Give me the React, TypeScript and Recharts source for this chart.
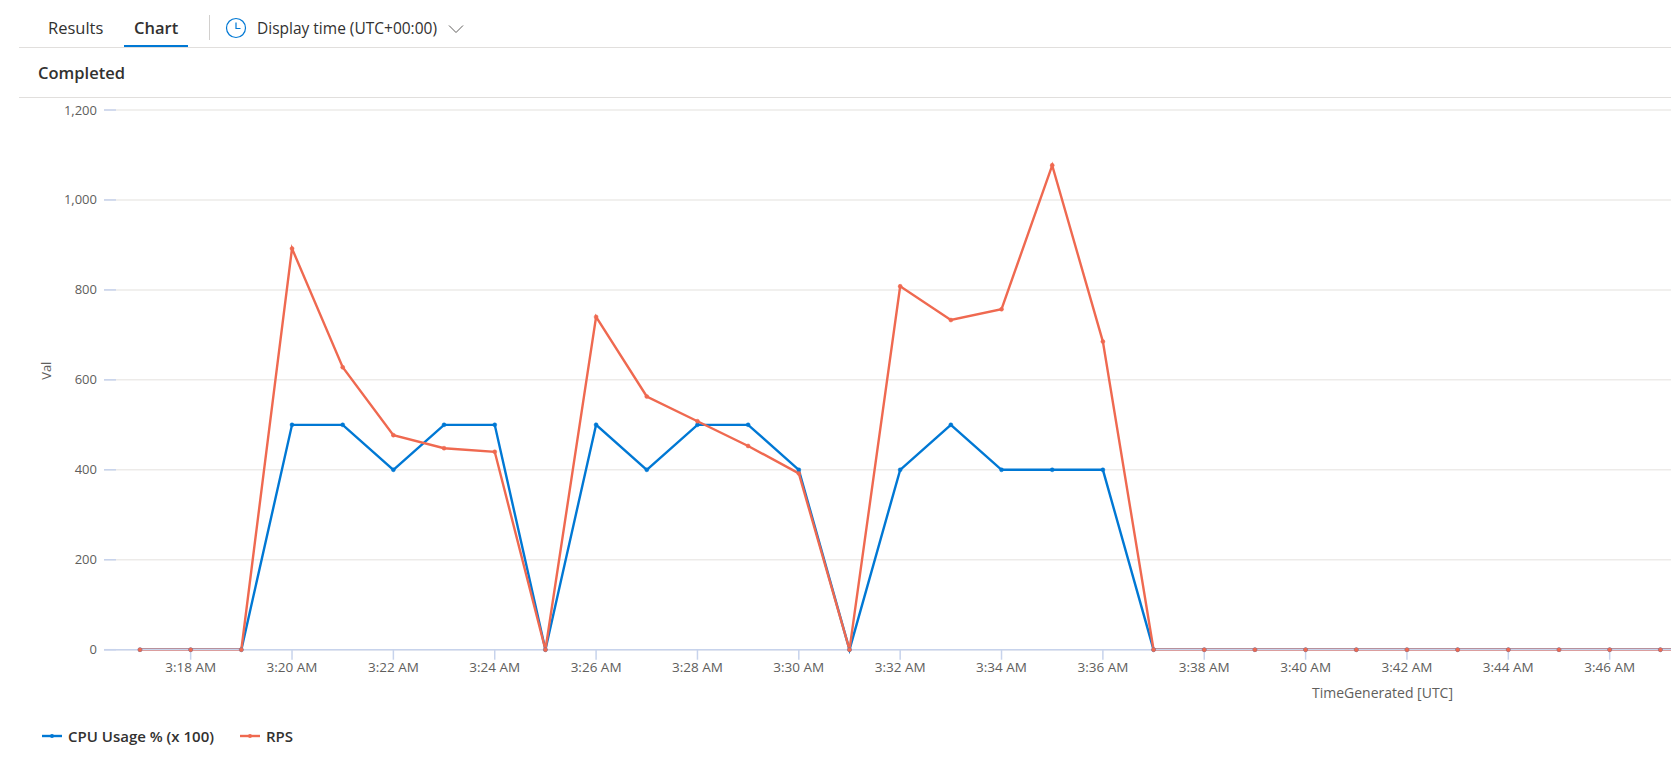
import React from "react";
import { LineChart, Line, XAxis, YAxis, CartesianGrid, Legend } from "recharts";

const minutes = [17,18,19,20,21,22,23,24,25,26,27,28,29,30,31,32,33,34,35,36,37,38,39,40,41,42,43,44,45,46,47,48];
const cpu = [0,0,0,500,500,400,500,500,0,500,400,500,500,400,0,400,500,400,400,400,0,0,0,0,0,0,0,0,0,0,0,0];
const rps = [0,0,0,892,628,477,448,440,0,740,563,508,453,392,0,808,733,757,1077,685,0,0,0,0,0,0,0,0,0,0,0,0];
const xTicks = [18,20,22,24,26,28,30,32,34,36,38,40,42,44,46];
const yTicks = [0,200,400,600,800,1000,1200];
const data = minutes.map((m, i) => ({ m, cpu: cpu[i], rps: rps[i] }));

const FONT = "'Open Sans', sans-serif";
const BLUE = "#0078d4";
const RED = "#ef6950";
const TEXT = "#605e5c";
const AXIS = "#c7d3ec";

const abs = (style: React.CSSProperties): React.CSSProperties => ({ position: "absolute", whiteSpace: "nowrap", ...style });

function LegendContent() {
  const items = [
    { label: "CPU Usage % (x 100)", color: BLUE },
    { label: "RPS", color: RED },
  ];
  return (
    <div style={{ display: "flex", fontFamily: FONT, fontSize: 15, fontWeight: 600, color: "#323130" }}>
      {items.map((it) => (
        <div key={it.label} style={{ display: "flex", alignItems: "center", marginRight: 26 }}>
          <svg width={20} height={6} style={{ marginRight: 6 }}>
            <line x1={0} x2={20} y1={3} y2={3} stroke={it.color} strokeWidth={2.4} />
            <circle cx={10} cy={3} r={2} fill={it.color} />
          </svg>
          {it.label}
        </div>
      ))}
    </div>
  );
}

function YTick(props: any) {
  const { x, y, payload } = props;
  return (
    <g>
      <text x={x} y={y} dy={4.5} textAnchor="end" fill={TEXT} fontSize={13} fontFamily={FONT}>
        {Number(payload.value).toLocaleString("en-US")}
      </text>
      <line x1={x + 7} x2={x + 19} y1={y} y2={y} stroke={AXIS} strokeWidth={1.5} />
    </g>
  );
}

export default function App() {
  return (
    <div style={{ position: "absolute", left: 0, top: 0, width: 1671, height: 764, overflow: "hidden", background: "#fff", fontFamily: FONT }}>
      <div style={abs({ left: 48, top: 16, fontSize: 16.5, color: "#323130" })}>Results</div>
      <div style={abs({ left: 134, top: 16, fontSize: 16.5, fontWeight: 600, color: "#323130" })}>Chart</div>
      <div style={abs({ left: 124, top: 45, width: 64, height: 2, background: BLUE })} />
      <div style={abs({ left: 209, top: 15, width: 1, height: 25, background: "#d2d0ce" })} />
      <svg style={abs({ left: 225, top: 17 })} width={22} height={22}>
        <circle cx={11} cy={11} r={9.5} fill="none" stroke={BLUE} strokeWidth={1.2} />
        <path d="M11 5.5V11.5H15.5" fill="none" stroke={BLUE} strokeWidth={1.2} />
      </svg>
      <div style={abs({ left: 257, top: 17, fontSize: 15.5, color: "#323130" })}>Display time (UTC+00:00)</div>
      <svg style={abs({ left: 448, top: 24 })} width={16} height={10}>
        <path d="M1 1.5L8 8.5L15 1.5" fill="none" stroke="#605e5c" strokeWidth={1} />
      </svg>
      <div style={abs({ left: 19, top: 47, width: 1652, height: 1, background: "#e1dfdd" })} />
      <div style={abs({ left: 38, top: 61, fontSize: 16.5, fontWeight: 600, color: "#323130" })}>Completed</div>
      <div style={abs({ left: 19, top: 97, width: 1652, height: 1, background: "#e1dfdd" })} />
      <LineChart width={1671} height={764} data={data} margin={{ top: 110, right: 0, bottom: 0, left: 0 }} style={{ position: "absolute", left: 0, top: 0 }}>
        <CartesianGrid vertical={false} stroke="#edebe9" strokeWidth={1.5} />
        <XAxis
          dataKey="m"
          type="number"
          domain={[16.29, 47.21]}
          allowDataOverflow
          ticks={xTicks}
          interval={0}
          tickFormatter={(m: number) => `3:${m} AM`}
          tick={{ fill: TEXT, fontSize: 13.5, fontFamily: FONT }}
          tickSize={10}
          tickMargin={3}
          stroke={AXIS}
          strokeWidth={1.5}
          label={{ value: "TimeGenerated [UTC]", position: "insideBottom", dx: 495, dy: -41, fill: TEXT, fontSize: 14, fontFamily: FONT }}
          height={94.3}
        />
        <YAxis
          domain={[0, 1200]}
          ticks={yTicks}
          interval={0}
          width={104}
          axisLine={false}
          tickLine={false}
          tickSize={0}
          tickMargin={7}
          tick={YTick}
          label={{ value: "Val", angle: -90, position: "insideLeft", dx: 41, dy: 0, fill: TEXT, fontSize: 13, fontFamily: FONT }}
        />
        <Legend
          verticalAlign="bottom"
          content={() => <LegendContent />}
          wrapperStyle={{ position: "absolute", left: 42, top: 726, width: 500, bottom: "auto" }}
        />
        <Line dataKey="cpu" name="CPU Usage % (x 100)" type="linear" stroke={BLUE} strokeWidth={2.4} dot={{ r: 2, fill: BLUE, stroke: BLUE, strokeWidth: 0.5 }} isAnimationActive={false} />
        <Line dataKey="rps" name="RPS" type="linear" stroke={RED} strokeWidth={2.4} dot={{ r: 2, fill: RED, stroke: RED, strokeWidth: 0.5 }} isAnimationActive={false} />
      </LineChart>
    </div>
  );
}
